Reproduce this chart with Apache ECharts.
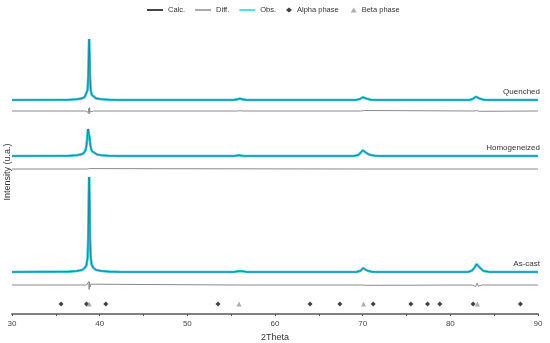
<!DOCTYPE html>
<html>
<head>
<meta charset="utf-8">
<script src="https://cdn.jsdelivr.net/npm/echarts@6/dist/echarts.min.js"></script>
<style>html,body{margin:0;padding:0;background:#fff}#c{width:550px;height:343px}</style>
</head>
<body>
<div id="c"></div>
<script>
// ---- Data ----
// Quenched
const q_x   = [30,36.5,37.4,38.0,38.3,38.5,38.62,38.7,38.75,38.8,38.85,38.9,38.98,39.1,39.3,39.6,40.2,41.1,42.5,55.2,55.7,56.0,56.3,56.8,69.2,69.7,70.0,70.15,70.4,70.9,71.5,82.2,82.6,82.9,83.05,83.3,83.8,84.4,90];
const q_obs = [0,0.3,0.8,1.6,3,5,10,24,45,61,45,24,10,5,3,1.6,0.8,0.3,0,0,0.6,1.5,0.6,0,0,1,2.8,3,1.5,0.3,0,0,1.2,3.3,3.5,1.6,0.3,0,0];
const q_dx  = [30,38.4,38.6,38.7,38.75,38.8,38.85,38.9,39.0,39.3,55.7,56.0,56.3,69.8,70.0,70.2,70.4,82.7,83.0,83.3,83.5,90];
const q_dif = [0,0,0.5,-1.5,2.5,-3,3.5,-1,0.5,0,0,0.3,0,0,-0.5,0.5,0,0,0.4,-0.3,0,0];
// Homogeneized
const h_x   = [30,36.5,37.4,37.9,38.2,38.4,38.52,38.6,38.67,38.72,38.78,38.86,38.95,39.1,39.3,39.7,40.2,41.0,42,55.3,55.9,56.4,69.0,69.5,69.8,70.0,70.15,70.4,70.8,71.4,72,90];
const h_obs = [0,0.3,0.8,1.6,3,6,12,20,27,28,26,18,10,5,3,1.5,0.7,0.3,0,0,0.8,0,0,1,3.5,5.8,5.8,3.2,1.2,0.3,0,0];
const h_dx  = [30,38.55,38.65,38.75,38.85,39.0,70.0,70.1,70.2,70.3,90];
const h_dif = [0,0,0.8,-0.8,0.4,0,0,0.5,-0.4,0,0];
// As-cast
const a_x   = [30,36.5,37.4,38.0,38.3,38.5,38.62,38.7,38.75,38.8,38.85,38.9,38.98,39.1,39.3,39.6,40.2,41.1,42.5,55.3,55.8,56.0,56.3,56.8,69.3,69.8,70.05,70.2,70.5,71.0,71.6,82.0,82.5,82.8,83.0,83.15,83.4,83.8,84.5,90];
const a_obs = [0,0.4,1,2,4,7,14,36,72,95,72,36,14,7,4,2,1,0.4,0,0,0.8,1.5,0.8,0,0,1.5,4,3.8,1.5,0.3,0,0,1.5,5,8,7.5,4,1,0,0];
const a_dx  = [30,38.5,38.65,38.72,38.77,38.8,38.84,38.9,39.0,39.2,55.8,56.0,56.2,69.9,70.1,70.3,70.5,82.5,82.7,82.9,83.05,83.2,83.4,83.6,90];
const a_dif = [0,0,1,-2,3.5,-4.5,3,-2,0.8,0,0,0.3,0,0,0.5,-0.3,0,0,1,-1.5,1.8,-1.2,0.8,0,0];
// Phase reflection markers (2Theta)
const alphaPeaks = [35.6,38.5,40.7,53.5,64.0,67.4,71.2,75.5,77.4,78.8,82.6,88.0];
const betaPeaks  = [38.8,55.9,70.1,83.1];
// Stacking offsets of the patterns (arbitrary units)
const offsets = {Q:214, Qd:203, H:158, Hd:145, A:42, Ad:29, marks:10};
const sampleNames = ['Quenched','Homogeneized','As-cast'];
const xTicks = [30,40,50,60,70,80,90];

function pairs(xs, ys, off){ return xs.map((x,i)=>[x, ys[i]+off]); }

const FONT = '"Liberation Sans",Arial,sans-serif';
const obsColor='#33c4de', calcColor='rgba(20,80,95,0.6)', diffColor='#8a8a8a';
const chart = echarts.init(document.getElementById('c'));
const lineBase = {type:'line', showSymbol:false, symbol:'none', animation:false, silent:true};
const series = [];
[['Q','Qd',q_x,q_obs,q_dx,q_dif],['H','Hd',h_x,h_obs,h_dx,h_dif],['A','Ad',a_x,a_obs,a_dx,a_dif]].forEach(s=>{
  series.push(Object.assign({}, lineBase, {name:'Obs.', data:pairs(s[2],s[3],offsets[s[0]]), lineStyle:{color:obsColor,width:2.6}, itemStyle:{color:'#55dbf2'}, z:2}));
  series.push(Object.assign({}, lineBase, {name:'Calc.', data:pairs(s[2],s[3],offsets[s[0]]), lineStyle:{color:calcColor,width:0.9}, itemStyle:{color:'#444'}, z:3}));
  series.push(Object.assign({}, lineBase, {name:'Diff.', data:pairs(s[4],s[5],offsets[s[1]]), lineStyle:{color:diffColor,width:1}, itemStyle:{color:'#aaa'}, z:2}));
});
series.push({type:'scatter', name:'Alpha phase', symbol:'diamond', symbolSize:5, itemStyle:{color:'#111'}, data:alphaPeaks.map(x=>[x,offsets.marks]), animation:false});
series.push({type:'scatter', name:'Beta phase', symbol:'triangle', symbolSize:5, itemStyle:{color:'#999'}, data:betaPeaks.map(x=>[x,offsets.marks]), animation:false});

const legText = {fontSize:7.5, color:'#333', fontFamily:FONT};
chart.setOption({
  animation:false,
  legend:[
    {top:6, left:146, padding:0, itemWidth:16, itemHeight:6, itemGap:9, textStyle:legText, selectedMode:false,
     data:[{name:'Calc.',itemStyle:{opacity:0},lineStyle:{color:'#444',width:2}},
           {name:'Diff.',itemStyle:{opacity:0},lineStyle:{color:'#aaa',width:2}},
           {name:'Obs.',itemStyle:{opacity:0},lineStyle:{color:'#55dbf2',width:2}}]},
    {top:6, left:286, padding:0, itemWidth:6, itemHeight:5, itemGap:12, textStyle:legText, selectedMode:false,
     data:[{name:'Alpha phase'},{name:'Beta phase'}]}
  ],
  grid:{left:12, right:12, top:14, bottom:29, outerBoundsMode:'none', containLabel:false},
  xAxis:{type:'value', min:30, max:90, interval:5,
    axisLine:{lineStyle:{color:'#808080', width:2}},
    axisTick:{show:true, length:2, lineStyle:{color:'#555'}},
    splitLine:{show:false},
    axisLabel:{fontSize:8, color:'#444', margin:6, fontFamily:FONT, formatter:v=>xTicks.includes(v)?String(v):''},
    name:'2Theta', nameLocation:'middle', nameGap:17, nameTextStyle:{fontSize:9, color:'#333', fontFamily:FONT}},
  yAxis:{type:'value', min:0, max:300, axisLine:{show:false}, axisTick:{show:false}, axisLabel:{show:false}, splitLine:{show:false},
    name:'Intensity (u.a.)', nameLocation:'middle', nameGap:0, nameRotate:90, nameTextStyle:{fontSize:9, color:'#333', fontFamily:FONT, padding:[0,16,0,0]}},
  series:series
});
const labelOffs=[offsets.Q, offsets.H, offsets.A];
const g = sampleNames.map((n,i)=>{
  const p = chart.convertToPixel({gridIndex:0},[90, labelOffs[i]]);
  return {type:'text', x:p[0]+2, y:p[1]-4, style:{text:n, fontSize:8, fill:'#333', align:'right', verticalAlign:'bottom', fontFamily:FONT}};
});
chart.setOption({graphic:g});
</script>
</body>
</html>
